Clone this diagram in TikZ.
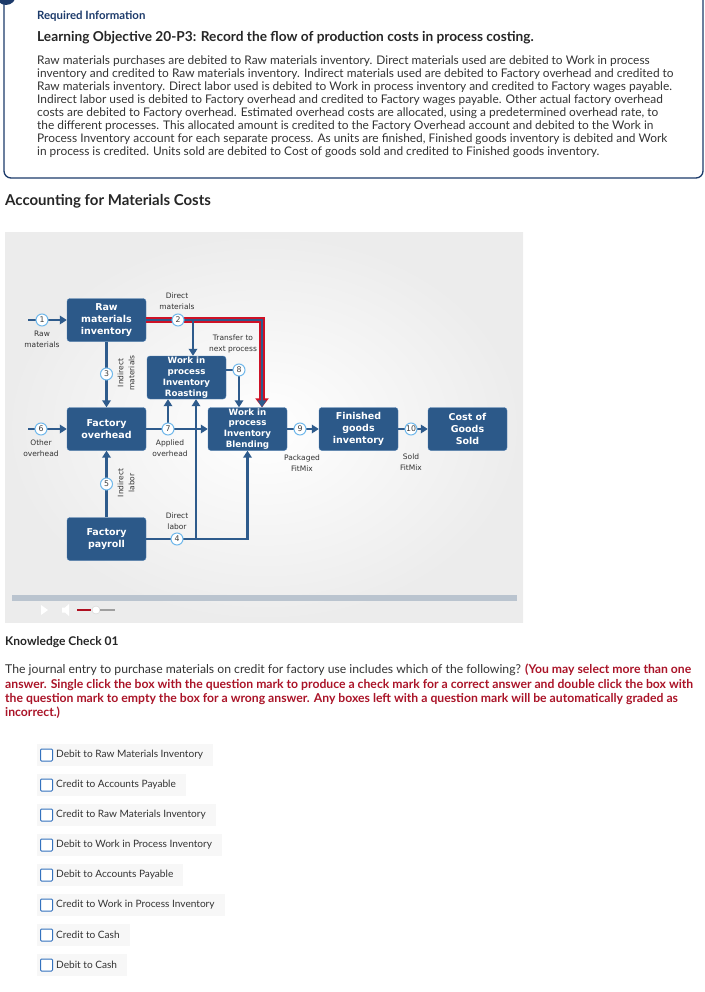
\documentclass[tikz,border=0pt]{standalone}
\usepackage{fontspec}
\setmainfont{Lato}
\newfontfamily\dgfont{DejaVu Sans}
\usetikzlibrary{arrows.meta,positioning,calc}
\definecolor{pgNavy}  {RGB}{ 28, 58,106}
\definecolor{pgText}  {RGB}{ 51, 51, 51}
\definecolor{pgRed}   {RGB}{170, 20, 40}
\definecolor{dgBox}   {RGB}{ 44, 89,137}
\definecolor{dgEdge}  {RGB}{ 78,128,180}
\definecolor{dgLine}  {RGB}{ 46, 91,140}
\definecolor{dgRed}   {RGB}{206, 17, 38}
\definecolor{dgRing}  {RGB}{112,184,235}
\definecolor{dgPanel} {RGB}{236,236,236}
\definecolor{dgBar}   {RGB}{186,196,207}
\definecolor{ckBlue}  {RGB}{ 52,114,190}
\definecolor{ckRow}   {RGB}{247,247,247}

\begin{document}
\begin{tikzpicture}[x=1pt,y=-1pt,
  >={Triangle[length=7pt,width=8.5pt]},
  acct/.style={draw=dgEdge,fill=dgBox,rounded corners=3pt,text=white,align=center,
               minimum width=79pt,minimum height=43pt,inner sep=1pt,
               font=\dgfont\bfseries\fontsize{9.5}{12.2}\selectfont},
  wip/.style={acct,font=\dgfont\bfseries\fontsize{8.7}{10.8}\selectfont},
  flow/.style={draw=dgLine,line width=2.8pt},
  hilite/.style={draw=dgRed,line width=6pt},
  num/.style={circle,draw=dgRing,fill=white,line width=1pt,inner sep=0pt,
              minimum size=12pt,text=black!75,font=\dgfont\fontsize{7.8}{8}\selectfont},
  note/.style={align=center,text=black!80,inner sep=0pt,
               font=\dgfont\fontsize{7.5}{11}\selectfont},
  optrow/.style={fill=ckRow,anchor=west,minimum height=22pt,inner xsep=3pt,
                 text=pgText,font=\fontsize{10.1}{12}\selectfont},
  chkbox/.style={draw=ckBlue,fill=white,line width=1pt,rounded corners=1pt,
                 minimum size=12pt,inner sep=0pt},
]
\useasboundingbox (0,0) rectangle (704,992);
\clip (0,0) rectangle (704,992);

% required information panel
\draw[pgNavy,line width=1.3pt,rounded corners=7pt] (4,-30) rectangle (703,178);
\fill[pgNavy] (6,-5) circle[radius=10pt];
\node[anchor=base west,inner sep=0pt,text=pgNavy,font=\bfseries\fontsize{11.4}{13}\selectfont]
  (req) at (37,20) {Required Information};
\node[anchor=base west,inner sep=0pt,text=black!85,font=\bfseries\fontsize{13.7}{15}\selectfont]
  (lo) at (37,42) {Learning Objective 20-P3: Record the flow of production costs in process costing.};
\node[anchor=north west,inner sep=0pt,align=left,text=pgText,font=\fontsize{11.9}{12.95}\selectfont]
  (intro) at (37,55.5) {Raw materials purchases are debited to Raw materials inventory. Direct materials used are debited to Work in process\\
  inventory and credited to Raw materials inventory. Indirect materials used are debited to Factory overhead and credited to\\
  Raw materials inventory. Direct labor used is debited to Work in process inventory and credited to Factory wages payable.\\
  Indirect labor used is debited to Factory overhead and credited to Factory wages payable. Other actual factory overhead\\
  costs are debited to Factory overhead. Estimated overhead costs are allocated, using a predetermined overhead rate, to\\
  the different processes. This allocated amount is credited to the Factory Overhead account and debited to the Work in\\
  Process Inventory account for each separate process. As units are finished, Finished goods inventory is debited and Work\\
  in process is credited. Units sold are debited to Cost of goods sold and credited to Finished goods inventory.};

\node[anchor=base west,inner sep=0pt,text=black!85,font=\bfseries\fontsize{15}{17}\selectfont]
  (acc) at (5,205.5) {Accounting for Materials Costs};

% diagram panel
\shade[inner color=white,outer color=dgPanel] (5,233) rectangle (523,622);

\node[acct] (raw)     at (106.5,320) {Raw\\materials\\inventory};
\node[wip]  (roast)   at (186.5,377.5) {Work in\\process\\Inventory\\Roasting};
\node[acct] (ovh)     at (106.5,429) {Factory\\overhead};
\node[wip]  (blend)   at (247.5,429) {Work in\\process\\Inventory\\Blending};
\node[acct] (fgi)     at (358.5,429) {Finished\\goods\\inventory};
\node[acct] (cogs)    at (467.5,429) {Cost of\\Goods\\Sold};
\node[acct] (payroll) at (106.5,539) {Factory\\payroll};

\coordinate (src1) at (28,320);
\coordinate (src6) at (28,429);
\coordinate (dmturn) at (262,320);
\coordinate (dmdrop) at (193,320);
\coordinate (trturn) at (239,370);
\coordinate (dlsplit) at (196,539);
\coordinate (aosplit) at (168,429);

\draw[hilite,-{Triangle[length=9pt,width=13pt]}] (raw.east) -- (dmturn) -- (dmturn |- blend.north);
\draw[flow,->] (raw.east) -- (dmturn) -- (dmturn |- blend.north);
\draw[flow,->] (dmdrop) -- (dmdrop |- roast.north);
\draw[flow,->] (src1) -- (raw.west);
\draw[flow,->] (raw.south) -- (ovh.north);
\draw[flow,->] (src6) -- (ovh.west);
\draw[flow,->] (ovh.east) -- (blend.west);
\draw[flow,->] (aosplit) -- (aosplit |- roast.south);
\draw[flow,->] (payroll.north) -- (ovh.south);
\draw[flow,->] (payroll.east) -| (blend.south);
\draw[flow,->] (dlsplit) -- (dlsplit |- roast.south);
\draw[flow,->] (roast.east |- trturn) -| (blend.north -| trturn);
\draw[flow,->] (blend.east) -- (fgi.west);
\draw[flow,->] (fgi.east) -- (cogs.west);

\node[num] (n1)  at (42,320)    {1};
\node[num] (n2)  at (178,320)   {2};
\node[num] (n3)  at (106.5,374) {3};
\node[num] (n4)  at (177,539)   {4};
\node[num] (n5)  at (106.5,484) {5};
\node[num] (n6)  at (41,429)    {6};
\node[num] (n7)  at (168,429)   {7};
\node[num] (n8)  at (239,370)   {8};
\node[num] (n9)  at (300,429)   {9};
\node[num] (n10) at (411,429)   {10};

\node[note] (lbl1)  at (42,339.5)  {Raw\\materials};
\node[note] (lbl2)  at (177,301.5) {Direct\\materials};
\node[note,rotate=90] (lbl3) at (126,373) {Indirect\\materials};
\node[note] (lbl4)  at (177,521.5) {Direct\\labor};
\node[note,rotate=90] (lbl5) at (126,483) {Indirect\\labor};
\node[note] (lbl6)  at (41,448)    {Other\\overhead};
\node[note] (lbl7)  at (170,448)   {Applied\\overhead};
\node[note] (lbl8)  at (233,343.5) {Transfer to\\next process};
\node[note] (lbl9)  at (302,463.5) {Packaged\\FitMix};
\node[note] (lbl10) at (411,462.5) {Sold\\FitMix};

% player bar
\fill[dgBar] (12,595) rectangle (517,601);
\fill[white] (41,605) -- (48,610) -- (41,615) -- cycle;
\fill[white] (62,607.5) rectangle (65,612.5) (65,607.5) -- (69,604) -- (69,616) -- (65,612.5) -- cycle;
\draw[dgRed!85!black,line width=2.2pt] (77,610) -- (91,610);
\fill[white,draw=gray!35] (96,610) circle[radius=4pt];
\draw[gray!75,line width=2.2pt] (100,610) -- (115,610);

% knowledge check
\node[anchor=base west,inner sep=0pt,text=black!85,font=\bfseries\fontsize{12}{14}\selectfont]
  (kc) at (5,645.5) {Knowledge Check 01};
\node[anchor=north west,inner sep=0pt,align=left,text=pgText,font=\fontsize{12.2}{14.4}\selectfont]
  (quest) at (5,664) {The journal entry to purchase materials on credit for factory use includes which of the following? {\color{pgRed}\bfseries(You may select more than one}\\
  {\color{pgRed}\bfseries answer. Single click the box with the question mark to produce a check mark for a correct answer and double click the box with}\\
  {\color{pgRed}\bfseries the question mark to empty the box for a wrong answer. Any boxes left with a question mark will be automatically graded as}\\
  {\color{pgRed}\bfseries incorrect.)}};

\node[optrow] (opt1) at (37,755) {\hspace*{16pt}Debit to Raw Materials Inventory\hspace*{7pt}};
\node[optrow] (opt2) at (37,785) {\hspace*{16pt}Credit to Accounts Payable\hspace*{7pt}};
\node[optrow] (opt3) at (37,815) {\hspace*{16pt}Credit to Raw Materials Inventory\hspace*{7pt}};
\node[optrow] (opt4) at (37,845) {\hspace*{16pt}Debit to Work in Process Inventory\hspace*{7pt}};
\node[optrow] (opt5) at (37,875) {\hspace*{16pt}Debit to Accounts Payable\hspace*{7pt}};
\node[optrow] (opt6) at (37,905) {\hspace*{16pt}Credit to Work in Process Inventory\hspace*{7pt}};
\node[optrow] (opt7) at (37,935) {\hspace*{16pt}Credit to Cash\hspace*{7pt}};
\node[optrow] (opt8) at (37,965) {\hspace*{16pt}Debit to Cash\hspace*{7pt}};
\node[chkbox,right=3pt of opt1.west] (ck1) {};
\node[chkbox,right=3pt of opt2.west] (ck2) {};
\node[chkbox,right=3pt of opt3.west] (ck3) {};
\node[chkbox,right=3pt of opt4.west] (ck4) {};
\node[chkbox,right=3pt of opt5.west] (ck5) {};
\node[chkbox,right=3pt of opt6.west] (ck6) {};
\node[chkbox,right=3pt of opt7.west] (ck7) {};
\node[chkbox,right=3pt of opt8.west] (ck8) {};
\end{tikzpicture}
\end{document}
